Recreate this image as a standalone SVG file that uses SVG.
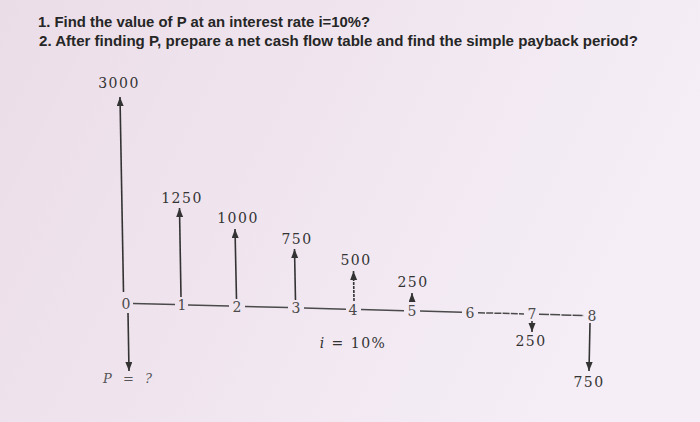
<svg xmlns="http://www.w3.org/2000/svg" width="700" height="422" viewBox="0 0 700 422">
<defs>
<linearGradient id="bg" x1="0" y1="0" x2="1" y2="0.3">
<stop offset="0" stop-color="#ebdde8"/>
<stop offset="1" stop-color="#f5eef6"/>
</linearGradient>
<marker id="ah" markerUnits="userSpaceOnUse" markerWidth="10" markerHeight="8" refX="9" refY="3.5" orient="auto">
<path d="M0,0 L9,3.5 L0,7 z" fill="#333"/>
</marker>
</defs>
<style>
.title{font-family:"Liberation Sans",Arial,sans-serif;font-weight:bold;font-size:15px;fill:#262626}
.val{font-family:"DejaVu Serif","Liberation Serif",serif;font-size:14px;fill:#333;letter-spacing:1.5px;text-anchor:middle}
.tick{font-family:"DejaVu Serif","Liberation Serif",serif;font-size:14px;fill:#4a4a4a;text-anchor:middle}
.ax{stroke:#4a4a4a;stroke-width:1.5;fill:none}
.arr{stroke:#333;stroke-width:1.6;fill:none;marker-end:url(#ah)}
.note{font-family:"DejaVu Serif","Liberation Serif",serif;font-size:13px;fill:#555}
</style>
<rect width="700" height="422" fill="url(#bg)"/>
<g id="title">
<text class="title" x="38" y="27" textLength="332" lengthAdjust="spacingAndGlyphs">1. Find the value of P at an interest rate i=10%?</text>
<text class="title" x="39" y="46" textLength="599" lengthAdjust="spacingAndGlyphs">2. After finding P, prepare a net cash flow table and find the simple payback period?</text>
</g>
<g id="connectors">
<line class="ax" x1="133" y1="303.5" x2="175" y2="304.6"/>
<line class="ax" x1="188" y1="305" x2="229" y2="306"/>
<line class="ax" x1="245" y1="306.5" x2="288" y2="307.6"/>
<line class="ax" x1="304" y1="308" x2="346" y2="309.2"/>
<line class="ax" x1="361" y1="309.6" x2="404" y2="310.7"/>
<line class="ax" x1="420" y1="311.1" x2="462" y2="312.2"/>
<line class="ax" x1="478" y1="312.7" x2="524" y2="313.9" stroke-dasharray="7 1.2"/>
<line class="ax" x1="539" y1="314.3" x2="584" y2="315.5" stroke-dasharray="10 1.2"/>
<line class="arr" x1="123.5" y1="292" x2="120" y2="97"/>
<line class="arr" x1="128" y1="313" x2="129" y2="371"/>
<line class="arr" x1="181" y1="297" x2="179.5" y2="208"/>
<line class="arr" x1="236.5" y1="299" x2="235" y2="229"/>
<line class="arr" x1="295.5" y1="300" x2="294.5" y2="249"/>
<line class="arr" x1="354" y1="301" x2="353.5" y2="271" stroke-dasharray="3 1"/>
<line class="arr" x1="412" y1="302" x2="412" y2="293" stroke-width="1"/>
<line class="arr" x1="532" y1="321" x2="532" y2="332" stroke-width="1.2"/>
<line class="arr" x1="590" y1="323" x2="589" y2="371"/>
</g>
<g id="t0"><text class="tick" x="126" y="308.5">0</text><text class="val" x="119" y="88">3000</text></g>
<g id="p"><text class="note" x="103" y="383" font-style="italic" textLength="49" lengthAdjust="spacing">P = ?</text></g>
<g id="t1"><text class="tick" x="182" y="310">1</text><text class="val" x="182" y="203">1250</text></g>
<g id="t2"><text class="tick" x="237" y="311.5">2</text><text class="val" x="238" y="223">1000</text></g>
<g id="t3"><text class="tick" x="296" y="313">3</text><text class="val" x="297" y="244">750</text></g>
<g id="t4"><text class="tick" x="353" y="314.5">4</text><text class="val" x="356" y="265">500</text></g>
<g id="t5"><text class="tick" x="412" y="316">5</text><text class="val" x="413" y="287">250</text></g>
<g id="t6"><text class="tick" x="470" y="317.5">6</text></g>
<g id="t7"><text class="tick" x="532" y="319">7</text><text class="val" x="531" y="346">250</text></g>
<g id="t8"><text class="tick" x="592" y="321">8</text><text class="val" x="589" y="387">750</text></g>
<g id="rate"><text class="val" x="353" y="348" letter-spacing="0.5"><tspan font-style="italic">i</tspan> = 10%</text></g>
</svg>
